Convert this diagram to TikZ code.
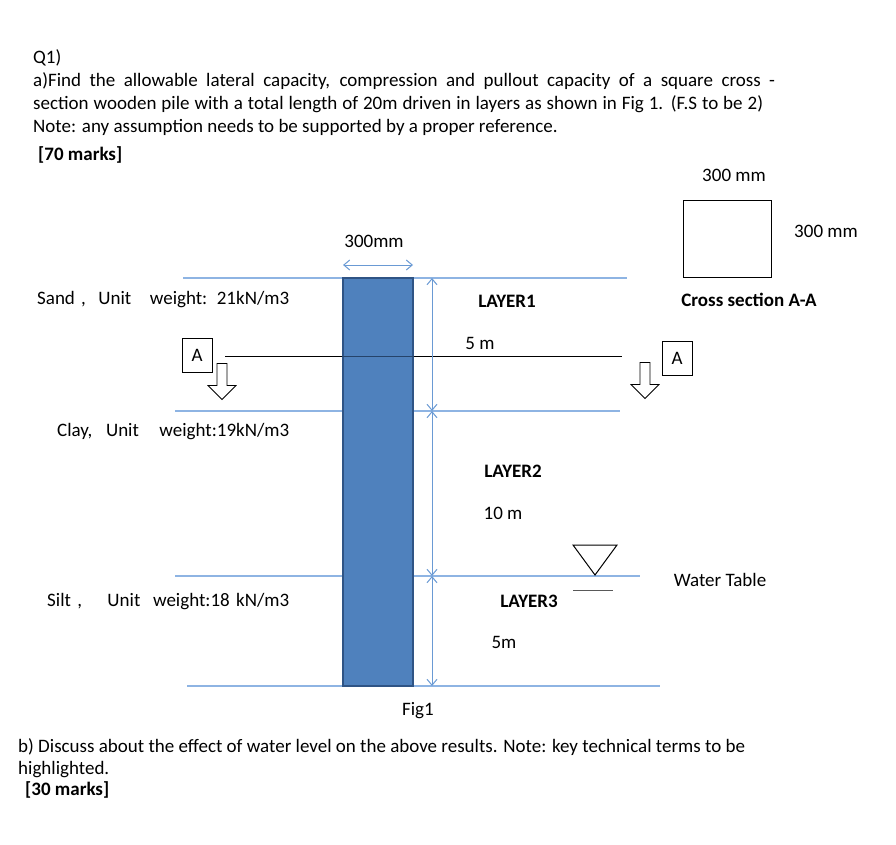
\documentclass[tikz,border=0pt]{standalone}
\usepackage{fontspec}
\setmainfont{Carlito}
\usetikzlibrary{arrows.meta,shapes.arrows}
\definecolor{lb}{HTML}{8EB4E3}
\definecolor{pile}{HTML}{4F81BD}
\definecolor{piled}{HTML}{2F5485}
\definecolor{dim}{HTML}{6A9AD4}
\newcommand\fs{\fontsize{19}{22}\selectfont}
\tikzset{
 txt/.style={anchor=west,inner sep=0,font=\fs},
 lbl/.style={inner sep=0,font=\fs},
 blbl/.style={inner sep=0,font=\fs\bfseries},
 soil/.style={lb,line width=1.5pt},
 dimarr/.style={dim,line width=1pt,{Straight Barb[length=6pt,width=10pt]}-{Straight Barb[length=6pt,width=10pt]}},
 abox/.style={draw,line width=0.8pt,minimum width=30pt,minimum height=34pt,inner sep=0,font=\fs},
 hollow/.style={single arrow,draw,line width=0.8pt,rotate=-90,minimum height=36pt,minimum width=28pt,single arrow head extend=6pt,inner sep=2pt,shape border uses incircle}
}
\begin{document}
\begin{tikzpicture}[x=1pt,y=-1pt]
\useasboundingbox (0,0) rectangle (896,845);
\node[txt] (q) at (33,58) {Q1)};
\node[txt] (l1) at (33,81) {\makebox[742pt][s]{a)Find the allowable lateral capacity, compression and pullout capacity of a square cross -}};
\node[txt] (l2) at (33,104) {\makebox[730pt][s]{section wooden pile with a total length of 20m driven in layers as shown in Fig 1. (F.S to be 2)}};
\node[txt] (l3) at (33,127) {Note: any assumption needs to be supported by a proper reference.};
\node[txt,font=\fs\bfseries] (m70) at (38,155) {[70 marks]};
% soil lines
\coordinate (s1a) at (183,278); \coordinate (s1b) at (627,278);
\coordinate (s2a) at (175,411); \coordinate (s2b) at (620,411);
\coordinate (s3a) at (175,576); \coordinate (s3b) at (640,576);
\coordinate (s4a) at (187,686); \coordinate (s4b) at (660,686);
\draw[soil] (s1a)--(s1b); \draw[soil] (s2a)--(s2b); \draw[soil] (s3a)--(s3b); \draw[soil] (s4a)--(s4b);
% section line
\coordinate (ca) at (225,356); \coordinate (cb) at (622,356);
\draw[line width=1pt] (ca)--(cb);
% pile
\node[draw=piled,fill=pile,line width=1.5pt,minimum width=70pt,minimum height=408pt,inner sep=0] (pile) at (378,482) {};
\draw[line width=1pt,piled!80!black] (pile.west|-ca)--(pile.east|-ca);
% dims
\coordinate (d1) at (432,278); \coordinate (d2) at (432,411); \coordinate (d3) at (432,576); \coordinate (d4) at (432,686);
\draw[dimarr] (d1)--(d2); \draw[dimarr] (d2)--(d3); \draw[dimarr] (d3)--(d4);
\coordinate (t1) at (343,265); \coordinate (t2) at (413,265);
\draw[dimarr] (t1)--(t2);
\node[lbl] (w300) at (374,241) {300mm};
% A marks
\node[abox] (al) at (197,355) {A};
\node[hollow] (arl) at (222,379) {};
\node[abox] (ar) at (677,358) {A};
\node[hollow] (arr) at (645,378) {};
% water table
\draw[line width=1pt] (573,545)--(617,545)--(595,575)--cycle;
\coordinate (wl1) at (573,590); \coordinate (wl2) at (613,590);
\draw[gray!70!black,line width=1pt] (wl1)--(wl2);
% labels
\node[blbl] (L1) at (507,301) {LAYER1};
\node[lbl] (m5) at (480,343) {5 m};
\node[blbl] (L2) at (513,471) {LAYER2};
\node[lbl] (m10) at (503,513) {10 m};
\node[blbl] (L3) at (529,601) {LAYER3};
\node[lbl] (m5b) at (504,642) {5m};
\node[lbl] (wtt) at (720,580) {Water Table};
\node[lbl] (fig) at (418,711) {Fig1};
\node[txt] (sand) at (37,300) {\makebox[252pt][s]{Sand ,\ \ Unit\ \ \ weight: 21kN/m3}};
\node[txt] (clay) at (57,432) {\makebox[232pt][s]{Clay,\ \ Unit\ \ \ weight:19kN/m3}};
\node[txt] (silt) at (47,602) {\makebox[242pt][s]{Silt ,\ \ \ \ Unit\ \ weight:18 kN/m3}};
% cross section
\node[draw,line width=1pt,minimum width=88pt,minimum height=77pt,inner sep=0] (cs) at (727,239) {};
\node[lbl] (c300a) at (734,175) {300 mm};
\node[lbl] (c300b) at (826,231) {300 mm};
\node[blbl] (csl) at (749,300) {Cross section A-A};
% part b
\node[txt] (b1) at (18,747) {b) Discuss about the effect of water level on the above results. Note: key technical terms to be};
\node[txt] (b2) at (18,770) {highlighted.};
\node[txt,font=\fs\bfseries] (m30) at (25,790) {[30 marks]};
\end{tikzpicture}
\end{document}
